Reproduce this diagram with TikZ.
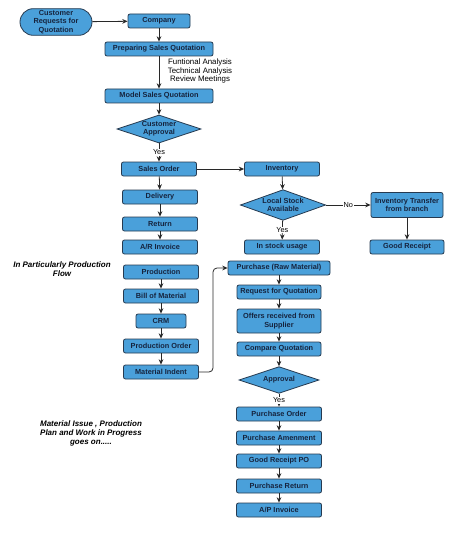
\documentclass[tikz,border=0pt]{standalone}
\usepackage{fontspec}
\setmainfont{Liberation Sans}
\usetikzlibrary{shapes.geometric,arrows.meta,positioning}
\definecolor{boxfill}{RGB}{74,160,218}
\definecolor{boxline}{RGB}{38,58,80}
\definecolor{boxtext}{RGB}{22,36,62}
\definecolor{linecol}{RGB}{40,40,40}
\tikzset{
  every node/.style={font=\fontsize{5.5}{6.2}\selectfont\bfseries, text=boxtext},
  box/.style={draw=boxline, line width=0.6pt, fill=boxfill, rounded corners=1.5pt, minimum height=10.5pt, inner sep=0.5pt, align=center},
  pill/.style={draw=boxline, line width=0.6pt, fill=boxfill, rounded corners=10pt, minimum height=20pt, minimum width=54pt, inner sep=0.5pt, align=center},
  dia/.style={draw=boxline, line width=0.6pt, fill=boxfill, diamond, aspect=3, inner sep=0pt, align=center},
  note/.style={font=\fontsize{5.9}{6.4}\selectfont, text=black, align=center},
  inote/.style={font=\fontsize{6}{6.8}\selectfont\bfseries\itshape, text=black, align=center},
  lbl/.style={font=\fontsize{5.5}{6}\selectfont, text=black, fill=white, inner sep=0.6pt},
  conn/.style={draw=linecol, line width=0.6pt, -{Stealth[length=4pt,width=3.5pt]}},
}
\begin{document}
\begin{tikzpicture}[x=0.75pt,y=-0.75pt]
\useasboundingbox (0,0) rectangle (474,549);
\node[pill] (crq) at (56,22) {Customer\\Requests for\\Quotation};
\node[box, minimum width=46.5pt] (comp) at (159,21) {Company};
\node[box, minimum width=81pt] (psq) at (159,49) {Preparing Sales Quotation};
\node[note] (fta) at (200,71) {Funtional Analysis\\Technical Analysis\\Review Meetings};
\node[box, minimum width=81pt] (msq) at (159,96) {Model Sales Quotation};
\node[dia, minimum width=63pt, minimum height=21pt] (ca) at (159,129) {Customer\\Approval};
\node[box, minimum width=56.25pt] (so) at (159,169) {Sales Order};
\node[box, minimum width=56.25pt] (inv) at (282,169) {Inventory};
\node[box, minimum width=56.25pt] (del) at (160,197) {Delivery};
\node[box, minimum width=56.25pt] (ret) at (160,224) {Return};
\node[box, minimum width=56.25pt] (ari) at (160,247) {A/R Invoice};
\node[dia, minimum width=64pt, minimum height=23pt] (lsa) at (283,205) {Local Stock\\Available};
\node[box, minimum width=54pt, minimum height=18.75pt] (itb) at (407,205) {Inventory Transfer\\from branch};
\node[box, minimum width=56.25pt] (isu) at (282,247) {In stock usage};
\node[box, minimum width=55.5pt] (gr) at (407,247) {Good Receipt};
\node[inote] (ipf) at (62,269) {In Particularly Production\\Flow};
\node[box, minimum width=56.25pt] (prod) at (161,272) {Production};
\node[box, minimum width=56.25pt] (bom) at (161,296) {Bill of Material};
\node[box, minimum width=37.5pt] (crm) at (161,321) {CRM};
\node[box, minimum width=56.25pt] (po) at (161,346) {Production Order};
\node[box, minimum width=56.25pt] (mi) at (161,372) {Material Indent};
\node[box, minimum width=76.5pt] (prm) at (279,268) {Purchase (Raw Material)};
\node[box, minimum width=63pt] (rfq) at (279,292) {Request for Quotation};
\node[box, minimum width=63pt, minimum height=18pt] (ors) at (279,321) {Offers received from\\Supplier};
\node[box, minimum width=63pt] (cq) at (279,349) {Compare Quotation};
\node[dia, minimum width=60pt, minimum height=20pt] (appr) at (279,380) {Approval};
\node[box, minimum width=63.75pt] (pord) at (279,414) {Purchase Order};
\node[box, minimum width=63.75pt] (pam) at (279,438) {Purchase Amenment};
\node[box, minimum width=63.75pt] (grpo) at (279,461) {Good Receipt PO};
\node[box, minimum width=63.75pt] (pret) at (279,486) {Purchase Return};
\node[box, minimum width=63.75pt] (api) at (279,510) {A/P Invoice};
\node[inote] (mip) at (91,433) {Material Issue , Production\\Plan and Work in Progress\\goes on.....};
\coordinate (bend1) at (213,372);
\coordinate (bend2) at (213,268);
% connectors
\draw[conn] (crq) -- (comp);
\draw[conn] (comp) -- (psq);
\draw[conn] (psq) -- (msq);
\draw[conn] (msq) -- (ca);
\draw[conn] (ca) -- node[lbl]{Yes} (so);
\draw[conn] (so) -- (inv);
\draw[conn] (so) -- (del);
\draw[conn] (del) -- (ret);
\draw[conn] (ret) -- (ari);
\draw[conn] (inv) -- (lsa);
\draw[conn] (lsa) -- node[lbl]{No} (itb);
\draw[conn] (lsa) -- node[lbl]{Yes} (isu);
\draw[conn] (itb) -- (gr);
\draw[conn] (prod) -- (bom);
\draw[conn] (bom) -- (crm);
\draw[conn] (crm) -- (po);
\draw[conn] (po) -- (mi);
\draw[conn, rounded corners=3pt] (mi.east) -- (bend1) -- (bend2) -- (prm.west);
\draw[conn] (prm) -- (rfq);
\draw[conn] (rfq) -- (ors);
\draw[conn] (ors) -- (cq);
\draw[conn] (cq) -- (appr);
\draw[conn] (appr) -- node[lbl]{Yes} (pord);
\draw[conn] (pord) -- (pam);
\draw[conn] (pam) -- (grpo);
\draw[conn] (grpo) -- (pret);
\draw[conn] (pret) -- (api);
\end{tikzpicture}
\end{document}
